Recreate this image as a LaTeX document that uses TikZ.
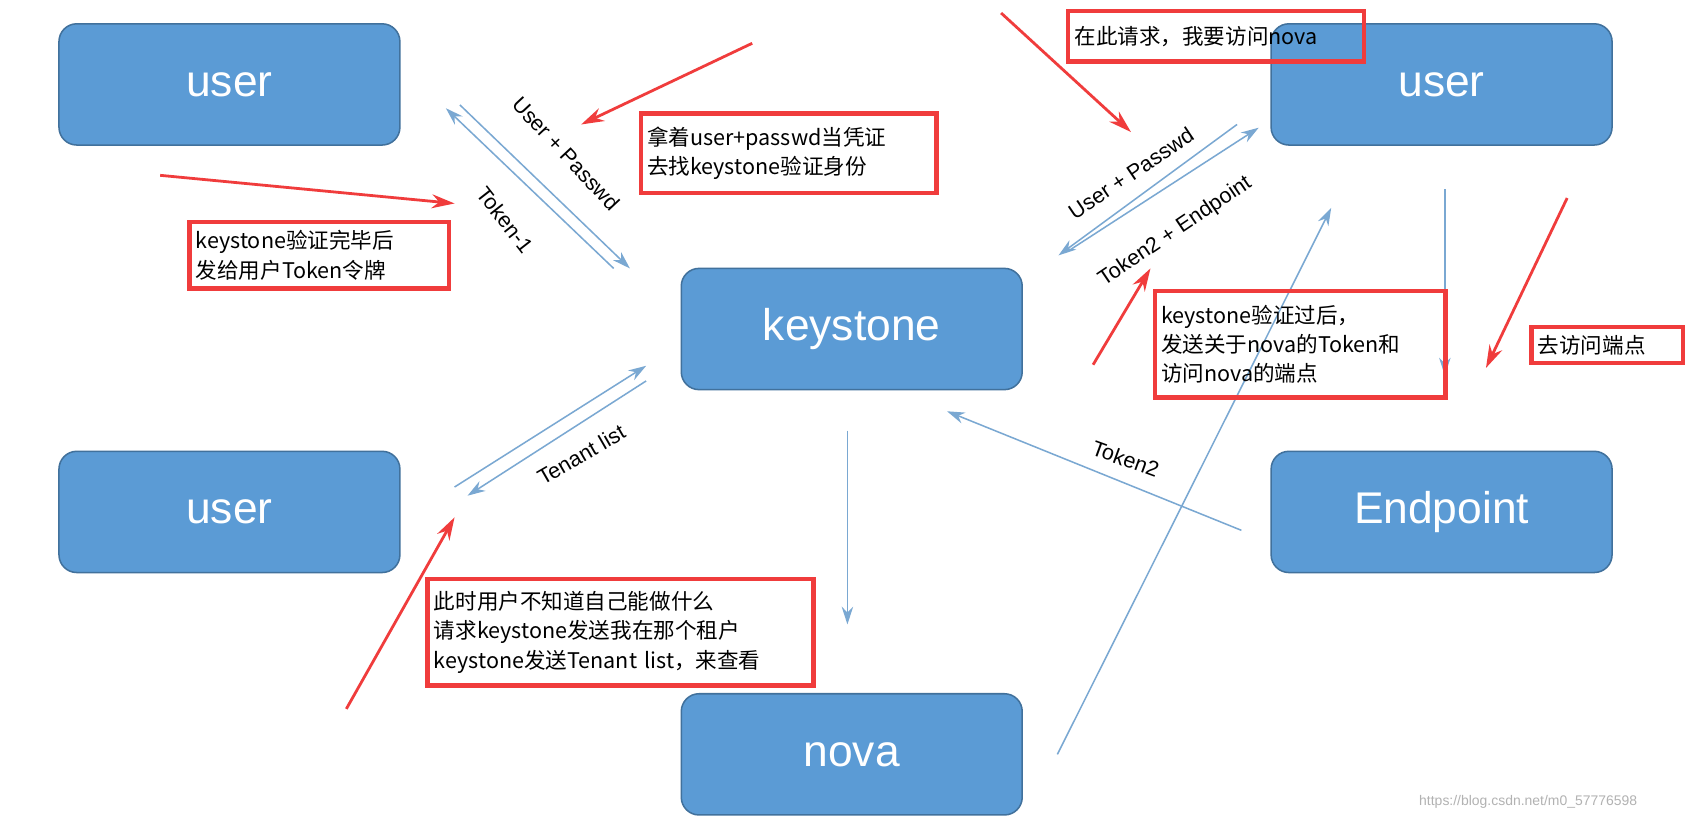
\documentclass[tikz,border=0pt]{standalone}
\usepackage{fontspec}
\setmainfont{Liberation Sans}
\newfontfamily\cjk{Noto Sans CJK SC}
\usetikzlibrary{arrows.meta}
\definecolor{boxblue}{HTML}{5B9BD5}
\definecolor{boxedge}{HTML}{41719C}
\definecolor{lineblue}{HTML}{7AA8D2}
\definecolor{markred}{HTML}{F03C3C}
\tikzset{
  comp/.style={draw=boxedge,line width=1.2pt,fill=boxblue,rounded corners=14pt,
    minimum width=9.45cm,minimum height=3.36cm,text=white,font=\fontsize{35}{40}\selectfont},
  flow/.style={lineblue,line width=1.2pt,-{Stealth[length=14pt,width=9pt]}},
  flowlabel/.style={font=\fontsize{17}{20}\selectfont},
  note/.style={draw=markred,line width=3.5pt,anchor=north west,align=left,inner xsep=5pt,inner ysep=6pt,
    font=\cjk\fontsize{17}{23}\selectfont},
  hint/.style={markred,line width=2.2pt,-{Stealth[length=18pt,width=11pt]}}
}
\begin{document}
\begin{tikzpicture}[x=0.03cm,y=-0.03cm]
    \useasboundingbox[fill=white] (0,0) rectangle (1568,758);

    % components
    \node[comp] (userA) at (212,78) {user};
    \node[comp] (userB) at (1332,78) {user};
    \node[comp] (keystone) at (787,304) {keystone};
    \node[comp] (userC) at (212,473) {user};
    \node[comp] (endpoint) at (1332,473) {Endpoint};
    \node[comp] (nova) at (787,697) {nova};

    % ends of the blue arrows
    \coordinate (a1) at (412,100); \coordinate (a2) at (567,248);
    \coordinate (b1) at (425,97);  \coordinate (b2) at (582,248);
    \coordinate (c1) at (420,450); \coordinate (c2) at (597,338);
    \coordinate (d1) at (597,352); \coordinate (d2) at (432,458);
    \coordinate (e1) at (1143,115); \coordinate (e2) at (978,236);
    \coordinate (f1) at (990,230); \coordinate (f2) at (1163,118);
    \coordinate (g1) at (1147,490); \coordinate (g2) at (875,380);
    \coordinate (h1) at (783,398); \coordinate (h2) at (783,577);
    \coordinate (k1) at (977,697); \coordinate (k2) at (1230,192);
    \coordinate (m1) at (1335,175); \coordinate (m2) at (1335,347);

    \draw[flow] (a2) -- (a1);
    \draw[flow] (b1) -- (b2);
    \draw[flow] (c1) -- (c2);
    \draw[flow] (d1) -- (d2);
    \draw[flow] (e1) -- (e2);
    \draw[flow] (f1) -- (f2);
    \draw[flow] (g1) -- (g2);
    \draw[flow] (h1) -- (h2);
    \draw[flow] (k1) -- (k2);
    \draw[flow] (m1) -- (m2);

    \node[flowlabel,rotate=-47] (lab1) at (523,142) {User + Passwd};
    \node[flowlabel,rotate=-52] (lab2) at (467,203) {Token-1};
    \node[flowlabel,rotate=30] (lab3) at (537,420) {Tenant list};
    \node[flowlabel,rotate=34] (lab4) at (1045,160) {User + Passwd};
    \node[flowlabel,rotate=34] (lab5) at (1086,214) {Token2 + Endpoint};
    \node[flowlabel,rotate=-20] (lab6) at (1040,424) {Token2};

    % notes
    \node[note,text width=6.85cm,minimum height=1.85cm] (n1) at (173,203) {keystone验证完毕后\\发给用户Token令牌};
    \node[note,text width=7.85cm,minimum height=2.2cm] (n2) at (590,103) {拿着user+passwd当凭证\\去找keystone验证身份};
    \node[note,text width=7.85cm,minimum height=1.4cm] (n3) at (985,8) {在此请求，我要访问nova};
    \node[note,text width=7.7cm,minimum height=2.95cm] (n4) at (1065,267) {keystone验证过后，\\发送关于nova的Token和\\访问nova的端点};
    \node[note,text width=3.85cm,minimum height=1.0cm] (n5) at (1413,300) {去访问端点};
    \node[note,text width=10.35cm,minimum height=2.95cm] (n6) at (393,533) {此时用户不知道自己能做什么\\请求keystone发送我在那个租户\\keystone发送Tenant list，来查看};

    % red pointers
    \coordinate (p1) at (148,162); \coordinate (q1) at (420,188);
    \coordinate (p2) at (695,40);  \coordinate (q2) at (537,115);
    \coordinate (p3) at (925,12);  \coordinate (q3) at (1045,122);
    \coordinate (p4) at (1010,337); \coordinate (q4) at (1063,248);
    \coordinate (p5) at (1448,183); \coordinate (q5) at (1373,340);
    \coordinate (p6) at (320,655); \coordinate (q6) at (420,478);
    \foreach \i in {1,...,6}
      \draw[hint] (p\i) -- (q\i);

    \node[gray!60,font=\fontsize{11}{13}\selectfont] (mark) at (1412,741) {https://blog.csdn.net/m0\_57776598};
\end{tikzpicture}
\end{document}
